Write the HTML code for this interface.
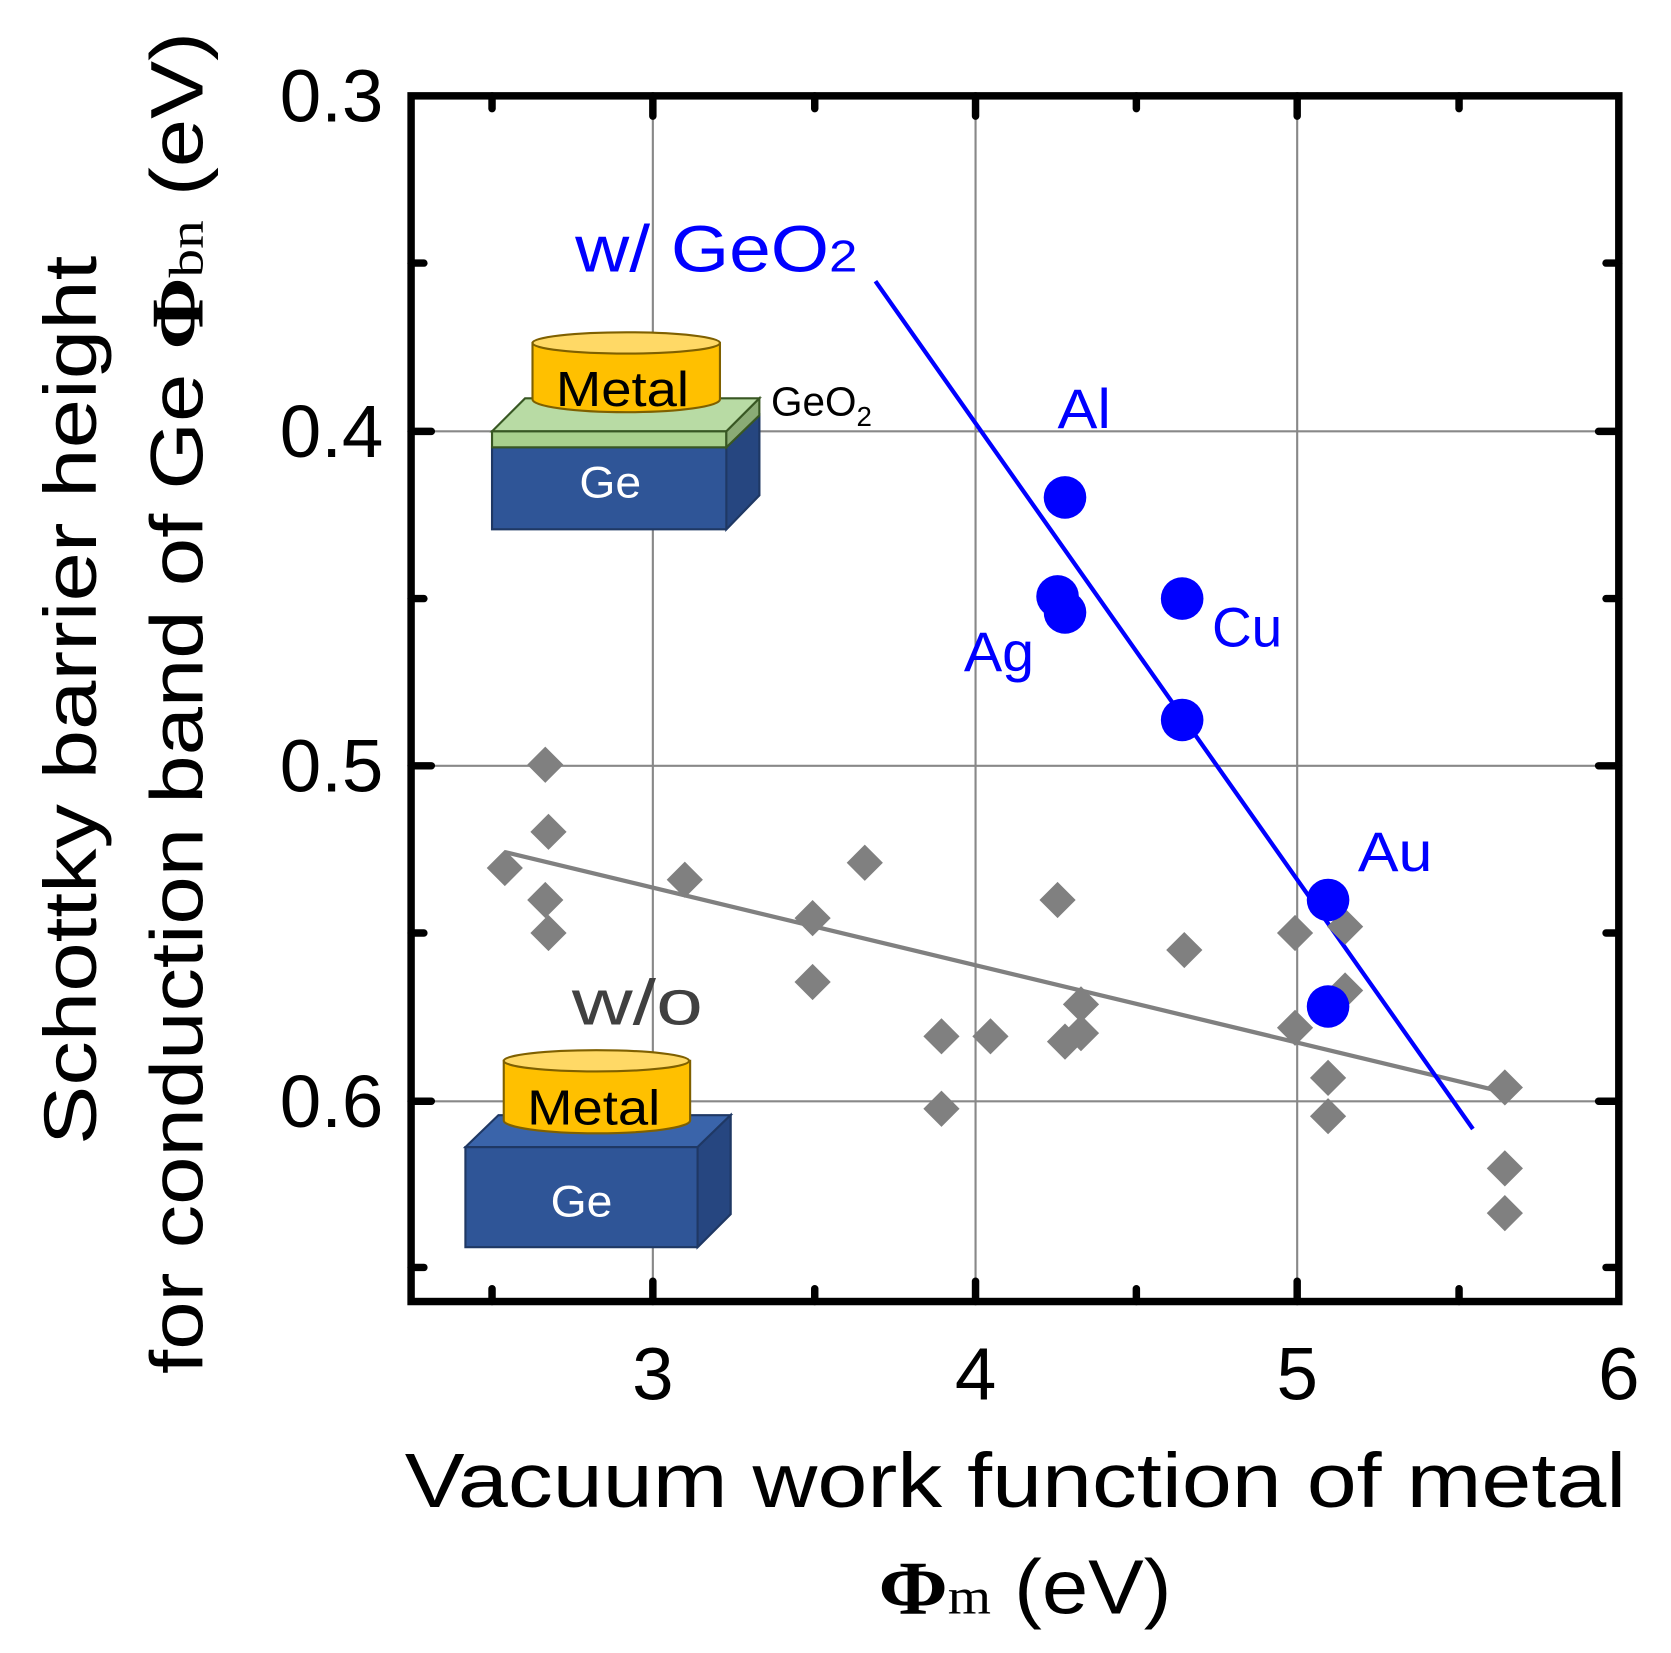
<!DOCTYPE html>
<html><head><meta charset="utf-8"><style>html,body{margin:0;padding:0;background:#fff}svg{display:block}</style></head>
<body>
<svg width="1671" height="1653" viewBox="0 0 1569 1552" preserveAspectRatio="none" xmlns="http://www.w3.org/2000/svg" font-family="'Liberation Sans', 'DejaVu Sans', sans-serif">
<rect width="1569" height="1552" fill="#fff"/>
<g stroke="#888" stroke-width="2">
<line x1="613" y1="90" x2="613" y2="1220"/><line x1="916" y1="90" x2="916" y2="1220"/><line x1="1218" y1="90" x2="1218" y2="1220"/>
<line x1="388" y1="405" x2="1520" y2="405"/><line x1="388" y1="719" x2="1520" y2="719"/><line x1="388" y1="1034" x2="1520" y2="1034"/>
</g>
<g stroke-width="2">
<polygon points="462,420 682,420 713,390 713,465 682,497 462,497" fill="#2f5597" stroke="#1f3864"/>
<polygon points="682,420 713,390 713,465 682,497" fill="#264680" stroke="#1f3864"/>
<polygon points="462,405 493,374 713,374 682,405" fill="#b8dba4" stroke="#385723"/>
<rect x="462" y="405" width="220" height="15" fill="#a8d08d" stroke="#385723"/>
<polygon points="682,405 713,374 713,390 682,420" fill="#8aab75" stroke="#385723"/>
<path d="M500,322 L500,375 A88,12 0 0 0 676,375 L676,322 Z" fill="#ffc000" stroke="#7f6000"/>
<ellipse cx="588" cy="322" rx="88" ry="10" fill="#ffd966" stroke="#7f6000"/>
</g>
<text x="544" y="467" font-size="42" fill="#fff" textLength="58" lengthAdjust="spacingAndGlyphs">Ge</text>
<text x="522" y="381" font-size="46" fill="#000" textLength="125" lengthAdjust="spacingAndGlyphs">Metal</text>
<text x="724" y="390" font-size="38" fill="#000">GeO<tspan font-size="26" dy="10">2</tspan></text>
<g stroke-width="2">
<polygon points="437,1077 655,1077 686,1047 686,1140 655,1171 437,1171" fill="#2f5597" stroke="#1f3864"/>
<polygon points="437,1077 468,1047 686,1047 655,1077" fill="#3a64aa" stroke="#1f3864"/>
<polygon points="655,1077 686,1047 686,1140 655,1171" fill="#264680" stroke="#1f3864"/>
<path d="M473,996 L473,1052 A87,12 0 0 0 648,1052 L648,996 Z" fill="#ffc000" stroke="#7f6000"/>
<ellipse cx="560" cy="996" rx="87" ry="10" fill="#ffd966" stroke="#7f6000"/>
</g>
<text x="517" y="1142" font-size="42" fill="#fff" textLength="58" lengthAdjust="spacingAndGlyphs">Ge</text>
<text x="495" y="1056" font-size="46" fill="#000" textLength="125" lengthAdjust="spacingAndGlyphs">Metal</text>
<line x1="474" y1="800" x2="1410" y2="1025" stroke="#808080" stroke-width="4"/>
<line x1="822" y1="264" x2="1383" y2="1060" stroke="#0000ff" stroke-width="4"/>
<g fill="#808080">
<path d="M0,-17 L17,0 L0,17 L-17,0Z" transform="translate(474,815)"/>
<path d="M0,-17 L17,0 L0,17 L-17,0Z" transform="translate(512,718)"/>
<path d="M0,-17 L17,0 L0,17 L-17,0Z" transform="translate(515,781)"/>
<path d="M0,-17 L17,0 L0,17 L-17,0Z" transform="translate(512,845)"/>
<path d="M0,-17 L17,0 L0,17 L-17,0Z" transform="translate(515,876)"/>
<path d="M0,-17 L17,0 L0,17 L-17,0Z" transform="translate(643,826)"/>
<path d="M0,-17 L17,0 L0,17 L-17,0Z" transform="translate(763,862)"/>
<path d="M0,-17 L17,0 L0,17 L-17,0Z" transform="translate(763,922)"/>
<path d="M0,-17 L17,0 L0,17 L-17,0Z" transform="translate(812,810)"/>
<path d="M0,-17 L17,0 L0,17 L-17,0Z" transform="translate(884,973)"/>
<path d="M0,-17 L17,0 L0,17 L-17,0Z" transform="translate(884,1041)"/>
<path d="M0,-17 L17,0 L0,17 L-17,0Z" transform="translate(930,973)"/>
<path d="M0,-17 L17,0 L0,17 L-17,0Z" transform="translate(993,845)"/>
<path d="M0,-17 L17,0 L0,17 L-17,0Z" transform="translate(1000,978)"/>
<path d="M0,-17 L17,0 L0,17 L-17,0Z" transform="translate(1015,943)"/>
<path d="M0,-17 L17,0 L0,17 L-17,0Z" transform="translate(1015,970)"/>
<path d="M0,-17 L17,0 L0,17 L-17,0Z" transform="translate(1112,892)"/>
<path d="M0,-17 L17,0 L0,17 L-17,0Z" transform="translate(1216,876)"/>
<path d="M0,-17 L17,0 L0,17 L-17,0Z" transform="translate(1216,965)"/>
<path d="M0,-17 L17,0 L0,17 L-17,0Z" transform="translate(1247,1012)"/>
<path d="M0,-17 L17,0 L0,17 L-17,0Z" transform="translate(1247,1048)"/>
<path d="M0,-17 L17,0 L0,17 L-17,0Z" transform="translate(1263,870)"/>
<path d="M0,-17 L17,0 L0,17 L-17,0Z" transform="translate(1263,930)"/>
<path d="M0,-17 L17,0 L0,17 L-17,0Z" transform="translate(1413,1021)"/>
<path d="M0,-17 L17,0 L0,17 L-17,0Z" transform="translate(1413,1097)"/>
<path d="M0,-17 L17,0 L0,17 L-17,0Z" transform="translate(1413,1139)"/>
</g>
<g fill="#0000ff">
<circle cx="1000" cy="467" r="20"/><circle cx="993" cy="560" r="20"/><circle cx="1000" cy="575" r="20"/>
<circle cx="1110" cy="562" r="20"/><circle cx="1110" cy="676" r="20"/><circle cx="1247" cy="845" r="20"/><circle cx="1247" cy="945" r="20"/>
</g>
<g fill="#0000ff" font-size="52">
<text x="540" y="255" font-size="62" textLength="265" lengthAdjust="spacingAndGlyphs">w/ GeO<tspan font-size="42">2</tspan></text>
<text x="993" y="402" textLength="50" lengthAdjust="spacingAndGlyphs">Al</text>
<text x="905" y="630" textLength="66" lengthAdjust="spacingAndGlyphs">Ag</text>
<text x="1138" y="607" textLength="66" lengthAdjust="spacingAndGlyphs">Cu</text>
<text x="1275" y="818" textLength="70" lengthAdjust="spacingAndGlyphs">Au</text>
</g>
<text x="537" y="962" font-size="60" fill="#404040" textLength="123" lengthAdjust="spacingAndGlyphs">w/o</text>
<g stroke="#000" stroke-width="7" stroke-linecap="round" fill="none">
<rect x="386" y="90" width="1134" height="1132"/>
<line x1="386" y1="247" x2="398" y2="247"/><line x1="386" y1="405" x2="405" y2="405"/><line x1="386" y1="562" x2="398" y2="562"/><line x1="386" y1="719" x2="405" y2="719"/><line x1="386" y1="876" x2="398" y2="876"/><line x1="386" y1="1034" x2="405" y2="1034"/><line x1="386" y1="1190" x2="398" y2="1190"/>
<line x1="1520" y1="247" x2="1508" y2="247"/><line x1="1520" y1="405" x2="1501" y2="405"/><line x1="1520" y1="562" x2="1508" y2="562"/><line x1="1520" y1="719" x2="1501" y2="719"/><line x1="1520" y1="876" x2="1508" y2="876"/><line x1="1520" y1="1034" x2="1501" y2="1034"/><line x1="1520" y1="1190" x2="1508" y2="1190"/>
<line x1="462" y1="1222" x2="462" y2="1210"/><line x1="613" y1="1222" x2="613" y2="1203"/><line x1="765" y1="1222" x2="765" y2="1210"/><line x1="916" y1="1222" x2="916" y2="1203"/><line x1="1067" y1="1222" x2="1067" y2="1210"/><line x1="1218" y1="1222" x2="1218" y2="1203"/><line x1="1370" y1="1222" x2="1370" y2="1210"/>
<line x1="462" y1="90" x2="462" y2="102"/><line x1="613" y1="90" x2="613" y2="109"/><line x1="765" y1="90" x2="765" y2="102"/><line x1="916" y1="90" x2="916" y2="109"/><line x1="1067" y1="90" x2="1067" y2="102"/><line x1="1218" y1="90" x2="1218" y2="109"/><line x1="1370" y1="90" x2="1370" y2="102"/>
</g>
<g font-size="70" fill="#000">
<g text-anchor="end"><text x="360" y="114">0.3</text><text x="360" y="429">0.4</text><text x="360" y="743">0.5</text><text x="360" y="1058">0.6</text></g>
<g text-anchor="middle"><text x="613" y="1314">3</text><text x="916" y="1314">4</text><text x="1218" y="1314">5</text><text x="1520" y="1314">6</text></g>
</g>
<text x="380" y="1415" font-size="72" textLength="1147" lengthAdjust="spacingAndGlyphs">Vacuum work function of metal</text>
<text x="825" y="1515" font-size="72" textLength="275" lengthAdjust="spacingAndGlyphs"><tspan font-family="'Liberation Serif', serif" font-weight="bold">Φ</tspan><tspan font-family="'Liberation Serif', serif" font-size="48">m</tspan> (eV)</text>
<g transform="translate(90,1075) rotate(-90)"><text x="0" y="0" font-size="70" textLength="835" lengthAdjust="spacingAndGlyphs">Schottky barrier height</text></g>
<g transform="translate(190,1290) rotate(-90)"><text x="0" y="0" font-size="70" textLength="1260" lengthAdjust="spacingAndGlyphs">for conduction band of Ge <tspan font-family="'Liberation Serif', serif" font-weight="bold">Φ</tspan><tspan font-family="'Liberation Serif', serif" font-size="46">bn</tspan> (eV)</text></g>
</svg>
</body></html>
